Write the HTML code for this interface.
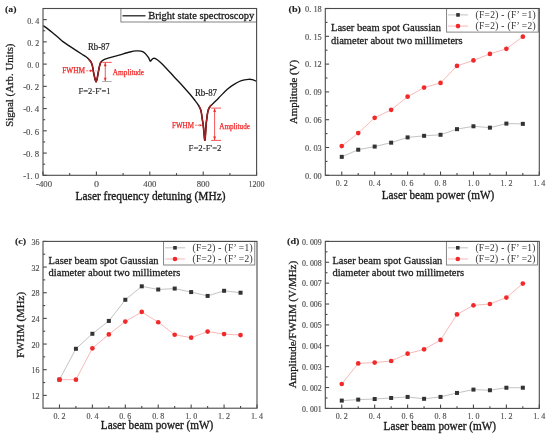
<!DOCTYPE html>
<html><head><meta charset="utf-8"><style>
html,body{margin:0;padding:0;background:#fff;}
svg{display:block;font-family:'Liberation Serif', serif;filter:blur(0.3px);}
</style></head><body>
<svg width="550" height="435" viewBox="0 0 550 435">
<rect width="550" height="435" fill="#fff"/>
<text x="5" y="11.7" font-size="9.0" text-anchor="start" fill="#222" font-weight="bold" textLength="11.4" lengthAdjust="spacingAndGlyphs" stroke="#222" stroke-width="0.1" >(a)</text>
<line x1="43" y1="19.62" x2="46.8" y2="19.62" stroke="#4a4a4a" stroke-width="1.1" />
<line x1="43" y1="41.86" x2="46.8" y2="41.86" stroke="#4a4a4a" stroke-width="1.1" />
<line x1="43" y1="64.1" x2="46.8" y2="64.1" stroke="#4a4a4a" stroke-width="1.1" />
<line x1="43" y1="86.34" x2="46.8" y2="86.34" stroke="#4a4a4a" stroke-width="1.1" />
<line x1="43" y1="108.58" x2="46.8" y2="108.58" stroke="#4a4a4a" stroke-width="1.1" />
<line x1="43" y1="130.82" x2="46.8" y2="130.82" stroke="#4a4a4a" stroke-width="1.1" />
<line x1="43" y1="153.06" x2="46.8" y2="153.06" stroke="#4a4a4a" stroke-width="1.1" />
<line x1="43" y1="175.3" x2="46.8" y2="175.3" stroke="#4a4a4a" stroke-width="1.1" />
<line x1="43" y1="30.74" x2="45.2" y2="30.74" stroke="#4a4a4a" stroke-width="1.1" />
<line x1="43" y1="52.98" x2="45.2" y2="52.98" stroke="#4a4a4a" stroke-width="1.1" />
<line x1="43" y1="75.22" x2="45.2" y2="75.22" stroke="#4a4a4a" stroke-width="1.1" />
<line x1="43" y1="97.46" x2="45.2" y2="97.46" stroke="#4a4a4a" stroke-width="1.1" />
<line x1="43" y1="119.7" x2="45.2" y2="119.7" stroke="#4a4a4a" stroke-width="1.1" />
<line x1="43" y1="141.94" x2="45.2" y2="141.94" stroke="#4a4a4a" stroke-width="1.1" />
<line x1="43" y1="164.18" x2="45.2" y2="164.18" stroke="#4a4a4a" stroke-width="1.1" />
<line x1="43" y1="175.3" x2="43" y2="171.5" stroke="#4a4a4a" stroke-width="1.1" />
<line x1="96.4" y1="175.3" x2="96.4" y2="171.5" stroke="#4a4a4a" stroke-width="1.1" />
<line x1="149.8" y1="175.3" x2="149.8" y2="171.5" stroke="#4a4a4a" stroke-width="1.1" />
<line x1="203.2" y1="175.3" x2="203.2" y2="171.5" stroke="#4a4a4a" stroke-width="1.1" />
<line x1="256.6" y1="175.3" x2="256.6" y2="171.5" stroke="#4a4a4a" stroke-width="1.1" />
<line x1="69.7" y1="175.3" x2="69.7" y2="173.1" stroke="#4a4a4a" stroke-width="1.1" />
<line x1="123.1" y1="175.3" x2="123.1" y2="173.1" stroke="#4a4a4a" stroke-width="1.1" />
<line x1="176.5" y1="175.3" x2="176.5" y2="173.1" stroke="#4a4a4a" stroke-width="1.1" />
<line x1="229.9" y1="175.3" x2="229.9" y2="173.1" stroke="#4a4a4a" stroke-width="1.1" />
<text x="39.2" y="23.52" font-size="8" text-anchor="end" fill="#505050" font-weight="normal" textLength="12" lengthAdjust="spacingAndGlyphs" stroke="#505050" stroke-width="0.15" >0. 4</text>
<text x="39.2" y="45.76" font-size="8" text-anchor="end" fill="#505050" font-weight="normal" textLength="12" lengthAdjust="spacingAndGlyphs" stroke="#505050" stroke-width="0.15" >0. 2</text>
<text x="39.2" y="68" font-size="8" text-anchor="end" fill="#505050" font-weight="normal" textLength="12" lengthAdjust="spacingAndGlyphs" stroke="#505050" stroke-width="0.15" >0. 0</text>
<text x="39.2" y="90.24" font-size="8" text-anchor="end" fill="#505050" font-weight="normal" textLength="16" lengthAdjust="spacingAndGlyphs" stroke="#505050" stroke-width="0.15" >-0. 2</text>
<text x="39.2" y="112.48" font-size="8" text-anchor="end" fill="#505050" font-weight="normal" textLength="16" lengthAdjust="spacingAndGlyphs" stroke="#505050" stroke-width="0.15" >-0. 4</text>
<text x="39.2" y="134.72" font-size="8" text-anchor="end" fill="#505050" font-weight="normal" textLength="16" lengthAdjust="spacingAndGlyphs" stroke="#505050" stroke-width="0.15" >-0. 6</text>
<text x="39.2" y="156.96" font-size="8" text-anchor="end" fill="#505050" font-weight="normal" textLength="16" lengthAdjust="spacingAndGlyphs" stroke="#505050" stroke-width="0.15" >-0. 8</text>
<text x="39.2" y="179.2" font-size="8" text-anchor="end" fill="#505050" font-weight="normal" textLength="16" lengthAdjust="spacingAndGlyphs" stroke="#505050" stroke-width="0.15" >-1. 0</text>
<text x="44" y="186.6" font-size="8" text-anchor="middle" fill="#505050" font-weight="normal" textLength="16" lengthAdjust="spacingAndGlyphs" stroke="#505050" stroke-width="0.15" >-400</text>
<text x="96.4" y="186.6" font-size="8" text-anchor="middle" fill="#505050" font-weight="normal" textLength="5" lengthAdjust="spacingAndGlyphs" stroke="#505050" stroke-width="0.15" >0</text>
<text x="149.8" y="186.6" font-size="8" text-anchor="middle" fill="#505050" font-weight="normal" textLength="13" lengthAdjust="spacingAndGlyphs" stroke="#505050" stroke-width="0.15" >400</text>
<text x="203.2" y="186.6" font-size="8" text-anchor="middle" fill="#505050" font-weight="normal" textLength="13" lengthAdjust="spacingAndGlyphs" stroke="#505050" stroke-width="0.15" >800</text>
<text x="256.6" y="186.6" font-size="8" text-anchor="middle" fill="#505050" font-weight="normal" textLength="16" lengthAdjust="spacingAndGlyphs" stroke="#505050" stroke-width="0.15" >1200</text>
<text x="150.5" y="199.8" font-size="11.9" text-anchor="middle" fill="#1a1a1a" font-weight="normal" textLength="150" lengthAdjust="spacingAndGlyphs" stroke="#1a1a1a" stroke-width="0.32" >Laser frequency detuning (MHz)</text>
<text transform="translate(12.6,85.2) rotate(-90)" x="0" y="0" font-size="11.0" text-anchor="middle" fill="#1a1a1a" textLength="83.3" lengthAdjust="spacingAndGlyphs" stroke="#1a1a1a" stroke-width="0.25">Signal (Arb. Units)</text>
<clipPath id="ca"><rect x="43.0" y="8.5" width="213.60000000000002" height="166.8"/></clipPath>
<clipPath id="dips"><rect x="88.5" y="55" width="13" height="30"/><rect x="198.8" y="103" width="12.5" height="40"/></clipPath>
<path d="M43.30,25.60 C44.75,26.70 49.55,30.25 52.00,32.20 C54.45,34.15 56.12,35.68 58.00,37.30 C59.88,38.92 61.30,40.38 63.30,41.90 C65.30,43.42 67.82,44.95 70.00,46.40 C72.18,47.85 74.40,49.30 76.40,50.60 C78.40,51.90 80.40,53.17 82.00,54.20 C83.60,55.23 84.88,55.95 86.00,56.80 C87.12,57.65 87.87,58.43 88.70,59.30 C89.53,60.17 90.38,60.92 91.00,62.00 C91.62,63.08 92.03,64.38 92.40,65.80 C92.77,67.22 92.92,68.97 93.20,70.50 C93.48,72.03 93.78,73.53 94.10,75.00 C94.42,76.47 94.77,78.17 95.10,79.30 C95.43,80.43 95.78,81.80 96.10,81.80 C96.42,81.80 96.72,80.43 97.00,79.30 C97.28,78.17 97.53,76.43 97.80,75.00 C98.07,73.57 98.33,72.10 98.60,70.70 C98.87,69.30 99.08,67.88 99.40,66.60 C99.72,65.32 100.02,63.98 100.50,63.00 C100.98,62.02 101.55,61.35 102.30,60.70 C103.05,60.05 103.72,59.60 105.00,59.10 C106.28,58.60 107.50,58.42 110.00,57.70 C112.50,56.98 116.67,55.75 120.00,54.80 C123.33,53.85 127.33,52.65 130.00,52.00 C132.67,51.35 134.17,51.03 136.00,50.90 C137.83,50.77 139.50,50.82 141.00,51.20 C142.50,51.58 143.75,52.12 145.00,53.20 C146.25,54.28 147.62,56.38 148.50,57.70 C149.38,59.02 149.77,60.75 150.30,61.10 C150.83,61.45 151.18,60.25 151.70,59.80 C152.22,59.35 152.77,58.58 153.40,58.40 C154.03,58.22 154.40,58.10 155.50,58.70 C156.60,59.30 158.25,60.45 160.00,62.00 C161.75,63.55 163.67,65.55 166.00,68.00 C168.33,70.45 171.33,73.83 174.00,76.70 C176.67,79.57 179.33,82.27 182.00,85.20 C184.67,88.13 187.83,91.75 190.00,94.30 C192.17,96.85 193.62,98.68 195.00,100.50 C196.38,102.32 197.32,103.55 198.30,105.20 C199.28,106.85 200.25,108.17 200.90,110.40 C201.55,112.63 201.80,116.02 202.20,118.60 C202.60,121.18 203.00,123.48 203.30,125.90 C203.60,128.32 203.78,130.83 204.00,133.10 C204.22,135.37 204.42,138.43 204.60,139.50 C204.78,140.57 204.95,140.38 205.10,139.50 C205.25,138.62 205.35,136.47 205.50,134.20 C205.65,131.93 205.78,128.50 206.00,125.90 C206.22,123.30 206.45,121.18 206.80,118.60 C207.15,116.02 207.53,112.45 208.10,110.40 C208.67,108.35 209.37,107.43 210.20,106.30 C211.03,105.17 212.00,104.67 213.10,103.60 C214.20,102.53 215.53,101.18 216.80,99.90 C218.07,98.62 218.90,97.72 220.70,95.90 C222.50,94.08 225.30,90.97 227.60,89.00 C229.90,87.03 232.20,85.48 234.50,84.10 C236.80,82.72 239.10,81.50 241.40,80.70 C243.70,79.90 246.47,79.48 248.30,79.30 C250.13,79.12 251.02,79.25 252.40,79.60 C253.78,79.95 255.90,81.10 256.60,81.40" fill="none" stroke="#e84444" stroke-width="1.75" clip-path="url(#dips)" stroke-linejoin="round"/>
<path d="M43.30,25.60 C44.75,26.70 49.55,30.25 52.00,32.20 C54.45,34.15 56.12,35.68 58.00,37.30 C59.88,38.92 61.30,40.38 63.30,41.90 C65.30,43.42 67.82,44.95 70.00,46.40 C72.18,47.85 74.40,49.30 76.40,50.60 C78.40,51.90 80.40,53.17 82.00,54.20 C83.60,55.23 84.88,55.95 86.00,56.80 C87.12,57.65 87.87,58.43 88.70,59.30 C89.53,60.17 90.38,60.92 91.00,62.00 C91.62,63.08 92.03,64.38 92.40,65.80 C92.77,67.22 92.92,68.97 93.20,70.50 C93.48,72.03 93.78,73.53 94.10,75.00 C94.42,76.47 94.77,78.17 95.10,79.30 C95.43,80.43 95.78,81.80 96.10,81.80 C96.42,81.80 96.72,80.43 97.00,79.30 C97.28,78.17 97.53,76.43 97.80,75.00 C98.07,73.57 98.33,72.10 98.60,70.70 C98.87,69.30 99.08,67.88 99.40,66.60 C99.72,65.32 100.02,63.98 100.50,63.00 C100.98,62.02 101.55,61.35 102.30,60.70 C103.05,60.05 103.72,59.60 105.00,59.10 C106.28,58.60 107.50,58.42 110.00,57.70 C112.50,56.98 116.67,55.75 120.00,54.80 C123.33,53.85 127.33,52.65 130.00,52.00 C132.67,51.35 134.17,51.03 136.00,50.90 C137.83,50.77 139.50,50.82 141.00,51.20 C142.50,51.58 143.75,52.12 145.00,53.20 C146.25,54.28 147.62,56.38 148.50,57.70 C149.38,59.02 149.77,60.75 150.30,61.10 C150.83,61.45 151.18,60.25 151.70,59.80 C152.22,59.35 152.77,58.58 153.40,58.40 C154.03,58.22 154.40,58.10 155.50,58.70 C156.60,59.30 158.25,60.45 160.00,62.00 C161.75,63.55 163.67,65.55 166.00,68.00 C168.33,70.45 171.33,73.83 174.00,76.70 C176.67,79.57 179.33,82.27 182.00,85.20 C184.67,88.13 187.83,91.75 190.00,94.30 C192.17,96.85 193.62,98.68 195.00,100.50 C196.38,102.32 197.32,103.55 198.30,105.20 C199.28,106.85 200.25,108.17 200.90,110.40 C201.55,112.63 201.80,116.02 202.20,118.60 C202.60,121.18 203.00,123.48 203.30,125.90 C203.60,128.32 203.78,130.83 204.00,133.10 C204.22,135.37 204.42,138.43 204.60,139.50 C204.78,140.57 204.95,140.38 205.10,139.50 C205.25,138.62 205.35,136.47 205.50,134.20 C205.65,131.93 205.78,128.50 206.00,125.90 C206.22,123.30 206.45,121.18 206.80,118.60 C207.15,116.02 207.53,112.45 208.10,110.40 C208.67,108.35 209.37,107.43 210.20,106.30 C211.03,105.17 212.00,104.67 213.10,103.60 C214.20,102.53 215.53,101.18 216.80,99.90 C218.07,98.62 218.90,97.72 220.70,95.90 C222.50,94.08 225.30,90.97 227.60,89.00 C229.90,87.03 232.20,85.48 234.50,84.10 C236.80,82.72 239.10,81.50 241.40,80.70 C243.70,79.90 246.47,79.48 248.30,79.30 C250.13,79.12 251.02,79.25 252.40,79.60 C253.78,79.95 255.90,81.10 256.60,81.40" fill="none" stroke="#141414" stroke-width="1.35" clip-path="url(#ca)" stroke-linejoin="round"/>
<path d="M43.30,25.60 C44.75,26.70 49.55,30.25 52.00,32.20 C54.45,34.15 56.12,35.68 58.00,37.30 C59.88,38.92 61.30,40.38 63.30,41.90 C65.30,43.42 67.82,44.95 70.00,46.40 C72.18,47.85 74.40,49.30 76.40,50.60 C78.40,51.90 80.40,53.17 82.00,54.20 C83.60,55.23 84.88,55.95 86.00,56.80 C87.12,57.65 87.87,58.43 88.70,59.30 C89.53,60.17 90.38,60.92 91.00,62.00 C91.62,63.08 92.03,64.38 92.40,65.80 C92.77,67.22 92.92,68.97 93.20,70.50 C93.48,72.03 93.78,73.53 94.10,75.00 C94.42,76.47 94.77,78.17 95.10,79.30 C95.43,80.43 95.78,81.80 96.10,81.80 C96.42,81.80 96.72,80.43 97.00,79.30 C97.28,78.17 97.53,76.43 97.80,75.00 C98.07,73.57 98.33,72.10 98.60,70.70 C98.87,69.30 99.08,67.88 99.40,66.60 C99.72,65.32 100.02,63.98 100.50,63.00 C100.98,62.02 101.55,61.35 102.30,60.70 C103.05,60.05 103.72,59.60 105.00,59.10 C106.28,58.60 107.50,58.42 110.00,57.70 C112.50,56.98 116.67,55.75 120.00,54.80 C123.33,53.85 127.33,52.65 130.00,52.00 C132.67,51.35 134.17,51.03 136.00,50.90 C137.83,50.77 139.50,50.82 141.00,51.20 C142.50,51.58 143.75,52.12 145.00,53.20 C146.25,54.28 147.62,56.38 148.50,57.70 C149.38,59.02 149.77,60.75 150.30,61.10 C150.83,61.45 151.18,60.25 151.70,59.80 C152.22,59.35 152.77,58.58 153.40,58.40 C154.03,58.22 154.40,58.10 155.50,58.70 C156.60,59.30 158.25,60.45 160.00,62.00 C161.75,63.55 163.67,65.55 166.00,68.00 C168.33,70.45 171.33,73.83 174.00,76.70 C176.67,79.57 179.33,82.27 182.00,85.20 C184.67,88.13 187.83,91.75 190.00,94.30 C192.17,96.85 193.62,98.68 195.00,100.50 C196.38,102.32 197.32,103.55 198.30,105.20 C199.28,106.85 200.25,108.17 200.90,110.40 C201.55,112.63 201.80,116.02 202.20,118.60 C202.60,121.18 203.00,123.48 203.30,125.90 C203.60,128.32 203.78,130.83 204.00,133.10 C204.22,135.37 204.42,138.43 204.60,139.50 C204.78,140.57 204.95,140.38 205.10,139.50 C205.25,138.62 205.35,136.47 205.50,134.20 C205.65,131.93 205.78,128.50 206.00,125.90 C206.22,123.30 206.45,121.18 206.80,118.60 C207.15,116.02 207.53,112.45 208.10,110.40 C208.67,108.35 209.37,107.43 210.20,106.30 C211.03,105.17 212.00,104.67 213.10,103.60 C214.20,102.53 215.53,101.18 216.80,99.90 C218.07,98.62 218.90,97.72 220.70,95.90 C222.50,94.08 225.30,90.97 227.60,89.00 C229.90,87.03 232.20,85.48 234.50,84.10 C236.80,82.72 239.10,81.50 241.40,80.70 C243.70,79.90 246.47,79.48 248.30,79.30 C250.13,79.12 251.02,79.25 252.40,79.60 C253.78,79.95 255.90,81.10 256.60,81.40" fill="none" stroke="#a82222" stroke-width="1.15" clip-path="url(#dips)" stroke-linejoin="round"/>
<rect x="120.9" y="8.5" width="135.70000000000002" height="13.5" fill="white" stroke="#777" stroke-width="0.9"/>
<line x1="122.5" y1="15.8" x2="145.5" y2="15.8" stroke="#222" stroke-width="1.3" />
<text x="148.2" y="19.2" font-size="10.9" text-anchor="start" fill="#1a1a1a" font-weight="normal" textLength="106" lengthAdjust="spacingAndGlyphs" stroke="#1a1a1a" stroke-width="0.3" >Bright state spectroscopy</text>
<text x="98.9" y="49.5" font-size="9.6" text-anchor="middle" fill="#1a1a1a" font-weight="normal" textLength="21.6" lengthAdjust="spacingAndGlyphs" stroke="#1a1a1a" stroke-width="0.2" >Rb-87</text>
<text x="94.5" y="94.2" font-size="8.6" text-anchor="middle" fill="#1a1a1a" font-weight="normal" textLength="32" lengthAdjust="spacingAndGlyphs" stroke="#1a1a1a" stroke-width="0.1" >F=2-F'=1</text>
<text x="62.3" y="73.1" font-size="7.3" text-anchor="start" fill="#f02a2a" font-weight="normal" textLength="22.7" lengthAdjust="spacingAndGlyphs" stroke="#f02a2a" stroke-width="0.25" >FWHM</text>
<line x1="86.3" y1="70.8" x2="90.5" y2="70.8" stroke="#f02a2a" stroke-width="0.8" stroke-dasharray="1.6,0.8"/>
<path d="M92.8,70.8 L90.0,69.6 L90.0,72.0 Z" fill="#f02a2a"/>
<line x1="95.3" y1="70.8" x2="98.5" y2="70.8" stroke="#999" stroke-width="0.7" stroke-dasharray="1.2,0.8"/>
<line x1="102.4" y1="62.4" x2="111.7" y2="62.4" stroke="#f02a2a" stroke-width="0.8" />
<line x1="102" y1="81.5" x2="111.7" y2="81.5" stroke="#999" stroke-width="0.8" />
<line x1="105.25" y1="63" x2="105.25" y2="81" stroke="#f02a2a" stroke-width="0.8" />
<path d="M105.25,62.6 L103.85,66.2 L106.65,66.2 Z" fill="#f02a2a"/>
<path d="M105.25,81.3 L103.85,77.7 L106.65,77.7 Z" fill="#f02a2a"/>
<text x="112.8" y="74.9" font-size="7.3" text-anchor="start" fill="#f02a2a" font-weight="normal" textLength="31.2" lengthAdjust="spacingAndGlyphs" stroke="#f02a2a" stroke-width="0.25" >Amplitude</text>
<text x="206" y="95.5" font-size="9.6" text-anchor="middle" fill="#1a1a1a" font-weight="normal" textLength="22" lengthAdjust="spacingAndGlyphs" stroke="#1a1a1a" stroke-width="0.2" >Rb-87</text>
<text x="205" y="151" font-size="8.8" text-anchor="middle" fill="#1a1a1a" font-weight="normal" textLength="33" lengthAdjust="spacingAndGlyphs" stroke="#1a1a1a" stroke-width="0.1" >F=2-F'=2</text>
<text x="172" y="128.2" font-size="7.3" text-anchor="start" fill="#f02a2a" font-weight="normal" textLength="22" lengthAdjust="spacingAndGlyphs" stroke="#f02a2a" stroke-width="0.25" >FWHM</text>
<line x1="195.2" y1="125.2" x2="199.8" y2="125.2" stroke="#f02a2a" stroke-width="0.8" stroke-dasharray="1.6,0.8"/>
<path d="M202.3,125.2 L199.5,124.0 L199.5,126.4 Z" fill="#f02a2a"/>
<line x1="211.2" y1="108.1" x2="221" y2="108.1" stroke="#f02a2a" stroke-width="0.8" />
<line x1="211.2" y1="140.4" x2="221" y2="140.4" stroke="#f02a2a" stroke-width="0.8" />
<line x1="214.6" y1="108.6" x2="214.6" y2="140" stroke="#f02a2a" stroke-width="0.8" />
<path d="M214.6,108.3 L213.2,111.9 L216.0,111.9 Z" fill="#f02a2a"/>
<path d="M214.6,140.2 L213.2,136.6 L216.0,136.6 Z" fill="#f02a2a"/>
<text x="219.2" y="128.6" font-size="7.3" text-anchor="start" fill="#f02a2a" font-weight="normal" textLength="30.8" lengthAdjust="spacingAndGlyphs" stroke="#f02a2a" stroke-width="0.25" >Amplitude</text>
<rect x="43" y="8.5" width="213.6" height="166.8" fill="none" stroke="#4a4a4a" stroke-width="1.1"/>
<text x="288.6" y="12.4" font-size="9.0" text-anchor="start" fill="#222" font-weight="bold" textLength="12.4" lengthAdjust="spacingAndGlyphs" stroke="#222" stroke-width="0.1" >(b)</text>
<line x1="325.3" y1="175.3" x2="329.1" y2="175.3" stroke="#4a4a4a" stroke-width="1.1" />
<line x1="325.3" y1="147.5" x2="329.1" y2="147.5" stroke="#4a4a4a" stroke-width="1.1" />
<line x1="325.3" y1="119.7" x2="329.1" y2="119.7" stroke="#4a4a4a" stroke-width="1.1" />
<line x1="325.3" y1="91.9" x2="329.1" y2="91.9" stroke="#4a4a4a" stroke-width="1.1" />
<line x1="325.3" y1="64.1" x2="329.1" y2="64.1" stroke="#4a4a4a" stroke-width="1.1" />
<line x1="325.3" y1="36.3" x2="329.1" y2="36.3" stroke="#4a4a4a" stroke-width="1.1" />
<line x1="325.3" y1="8.5" x2="329.1" y2="8.5" stroke="#4a4a4a" stroke-width="1.1" />
<line x1="325.3" y1="161.4" x2="327.5" y2="161.4" stroke="#4a4a4a" stroke-width="1.1" />
<line x1="325.3" y1="133.6" x2="327.5" y2="133.6" stroke="#4a4a4a" stroke-width="1.1" />
<line x1="325.3" y1="105.8" x2="327.5" y2="105.8" stroke="#4a4a4a" stroke-width="1.1" />
<line x1="325.3" y1="78" x2="327.5" y2="78" stroke="#4a4a4a" stroke-width="1.1" />
<line x1="325.3" y1="50.2" x2="327.5" y2="50.2" stroke="#4a4a4a" stroke-width="1.1" />
<line x1="325.3" y1="22.4" x2="327.5" y2="22.4" stroke="#4a4a4a" stroke-width="1.1" />
<line x1="341.76" y1="175.3" x2="341.76" y2="171.5" stroke="#4a4a4a" stroke-width="1.1" />
<line x1="374.68" y1="175.3" x2="374.68" y2="171.5" stroke="#4a4a4a" stroke-width="1.1" />
<line x1="407.61" y1="175.3" x2="407.61" y2="171.5" stroke="#4a4a4a" stroke-width="1.1" />
<line x1="440.53" y1="175.3" x2="440.53" y2="171.5" stroke="#4a4a4a" stroke-width="1.1" />
<line x1="473.45" y1="175.3" x2="473.45" y2="171.5" stroke="#4a4a4a" stroke-width="1.1" />
<line x1="506.38" y1="175.3" x2="506.38" y2="171.5" stroke="#4a4a4a" stroke-width="1.1" />
<line x1="539.3" y1="175.3" x2="539.3" y2="171.5" stroke="#4a4a4a" stroke-width="1.1" />
<line x1="358.22" y1="175.3" x2="358.22" y2="173.1" stroke="#4a4a4a" stroke-width="1.1" />
<line x1="391.15" y1="175.3" x2="391.15" y2="173.1" stroke="#4a4a4a" stroke-width="1.1" />
<line x1="424.07" y1="175.3" x2="424.07" y2="173.1" stroke="#4a4a4a" stroke-width="1.1" />
<line x1="456.99" y1="175.3" x2="456.99" y2="173.1" stroke="#4a4a4a" stroke-width="1.1" />
<line x1="489.92" y1="175.3" x2="489.92" y2="173.1" stroke="#4a4a4a" stroke-width="1.1" />
<line x1="522.84" y1="175.3" x2="522.84" y2="173.1" stroke="#4a4a4a" stroke-width="1.1" />
<text x="321.7" y="178.5" font-size="8" text-anchor="end" fill="#505050" font-weight="normal" textLength="16.6" lengthAdjust="spacingAndGlyphs" stroke="#505050" stroke-width="0.15" >0. 00</text>
<text x="321.7" y="150.7" font-size="8" text-anchor="end" fill="#505050" font-weight="normal" textLength="16.6" lengthAdjust="spacingAndGlyphs" stroke="#505050" stroke-width="0.15" >0. 03</text>
<text x="321.7" y="122.9" font-size="8" text-anchor="end" fill="#505050" font-weight="normal" textLength="16.6" lengthAdjust="spacingAndGlyphs" stroke="#505050" stroke-width="0.15" >0. 06</text>
<text x="321.7" y="95.1" font-size="8" text-anchor="end" fill="#505050" font-weight="normal" textLength="16.6" lengthAdjust="spacingAndGlyphs" stroke="#505050" stroke-width="0.15" >0. 09</text>
<text x="321.7" y="67.3" font-size="8" text-anchor="end" fill="#505050" font-weight="normal" textLength="16.6" lengthAdjust="spacingAndGlyphs" stroke="#505050" stroke-width="0.15" >0. 12</text>
<text x="321.7" y="39.5" font-size="8" text-anchor="end" fill="#505050" font-weight="normal" textLength="16.6" lengthAdjust="spacingAndGlyphs" stroke="#505050" stroke-width="0.15" >0. 15</text>
<text x="321.7" y="11.7" font-size="8" text-anchor="end" fill="#505050" font-weight="normal" textLength="16.6" lengthAdjust="spacingAndGlyphs" stroke="#505050" stroke-width="0.15" >0. 18</text>
<text x="341.76" y="186.4" font-size="8" text-anchor="middle" fill="#505050" font-weight="normal" textLength="12" lengthAdjust="spacingAndGlyphs" stroke="#505050" stroke-width="0.15" >0. 2</text>
<text x="374.68" y="186.4" font-size="8" text-anchor="middle" fill="#505050" font-weight="normal" textLength="12" lengthAdjust="spacingAndGlyphs" stroke="#505050" stroke-width="0.15" >0. 4</text>
<text x="407.61" y="186.4" font-size="8" text-anchor="middle" fill="#505050" font-weight="normal" textLength="12" lengthAdjust="spacingAndGlyphs" stroke="#505050" stroke-width="0.15" >0. 6</text>
<text x="440.53" y="186.4" font-size="8" text-anchor="middle" fill="#505050" font-weight="normal" textLength="12" lengthAdjust="spacingAndGlyphs" stroke="#505050" stroke-width="0.15" >0. 8</text>
<text x="473.45" y="186.4" font-size="8" text-anchor="middle" fill="#505050" font-weight="normal" textLength="12" lengthAdjust="spacingAndGlyphs" stroke="#505050" stroke-width="0.15" >1. 0</text>
<text x="506.38" y="186.4" font-size="8" text-anchor="middle" fill="#505050" font-weight="normal" textLength="12" lengthAdjust="spacingAndGlyphs" stroke="#505050" stroke-width="0.15" >1. 2</text>
<text x="539.3" y="186.4" font-size="8" text-anchor="middle" fill="#505050" font-weight="normal" textLength="12" lengthAdjust="spacingAndGlyphs" stroke="#505050" stroke-width="0.15" >1. 4</text>
<text x="438" y="199" font-size="11.9" text-anchor="middle" fill="#1a1a1a" font-weight="normal" textLength="112.5" lengthAdjust="spacingAndGlyphs" stroke="#1a1a1a" stroke-width="0.32" >Laser beam power (mW)</text>
<text transform="translate(296.5,92) rotate(-90)" x="0" y="0" font-size="11.3" text-anchor="middle" fill="#1a1a1a" textLength="64" lengthAdjust="spacingAndGlyphs" stroke="#1a1a1a" stroke-width="0.28">Amplitude (V)</text>
<polyline points="341.76,156.86 358.22,149.72 374.68,146.57 391.15,142.68 407.61,137.40 424.07,135.82 440.53,134.80 456.99,129.15 473.45,126.28 489.92,127.67 506.38,123.59 522.84,123.87" fill="none" stroke="#bcbcbc" stroke-width="0.9"/>
<polyline points="341.76,146.11 358.22,133.04 374.68,117.85 391.15,109.78 407.61,96.72 424.07,87.54 440.53,82.91 456.99,65.95 473.45,60.39 489.92,53.91 506.38,48.81 522.84,36.67" fill="none" stroke="#f7b0b0" stroke-width="0.9"/>
<rect x="339.76" y="154.86" width="4" height="4" fill="#333333"/>
<rect x="356.22" y="147.72" width="4" height="4" fill="#333333"/>
<rect x="372.68" y="144.57" width="4" height="4" fill="#333333"/>
<rect x="389.15" y="140.68" width="4" height="4" fill="#333333"/>
<rect x="405.61" y="135.40" width="4" height="4" fill="#333333"/>
<rect x="422.07" y="133.82" width="4" height="4" fill="#333333"/>
<rect x="438.53" y="132.80" width="4" height="4" fill="#333333"/>
<rect x="454.99" y="127.15" width="4" height="4" fill="#333333"/>
<rect x="471.45" y="124.28" width="4" height="4" fill="#333333"/>
<rect x="487.92" y="125.67" width="4" height="4" fill="#333333"/>
<rect x="504.38" y="121.59" width="4" height="4" fill="#333333"/>
<rect x="520.84" y="121.87" width="4" height="4" fill="#333333"/>
<circle cx="341.76" cy="146.11" r="2.35" fill="#f02a2a"/>
<circle cx="358.22" cy="133.04" r="2.35" fill="#f02a2a"/>
<circle cx="374.68" cy="117.85" r="2.35" fill="#f02a2a"/>
<circle cx="391.15" cy="109.78" r="2.35" fill="#f02a2a"/>
<circle cx="407.61" cy="96.72" r="2.35" fill="#f02a2a"/>
<circle cx="424.07" cy="87.54" r="2.35" fill="#f02a2a"/>
<circle cx="440.53" cy="82.91" r="2.35" fill="#f02a2a"/>
<circle cx="456.99" cy="65.95" r="2.35" fill="#f02a2a"/>
<circle cx="473.45" cy="60.39" r="2.35" fill="#f02a2a"/>
<circle cx="489.92" cy="53.91" r="2.35" fill="#f02a2a"/>
<circle cx="506.38" cy="48.81" r="2.35" fill="#f02a2a"/>
<circle cx="522.84" cy="36.67" r="2.35" fill="#f02a2a"/>
<text x="331" y="30.5" font-size="10.9" text-anchor="start" fill="#1a1a1a" font-weight="normal" textLength="110" lengthAdjust="spacingAndGlyphs" stroke="#1a1a1a" stroke-width="0.28" >Laser beam spot Gaussian</text>
<text x="331" y="43.6" font-size="10.9" text-anchor="start" fill="#1a1a1a" font-weight="normal" textLength="131.7" lengthAdjust="spacingAndGlyphs" stroke="#1a1a1a" stroke-width="0.28" >diameter about two millimeters</text>
<rect x="446.6" y="8.5" width="91.69999999999993" height="23.6" fill="white" stroke="#777" stroke-width="0.9"/>
<line x1="448.1" y1="14.9" x2="468.1" y2="14.9" stroke="#bcbcbc" stroke-width="0.9" />
<rect x="456.20" y="13.10" width="3.6" height="3.6" fill="#333333"/>
<line x1="448.1" y1="26.1" x2="468.1" y2="26.1" stroke="#f7b0b0" stroke-width="0.9" />
<circle cx="458.00" cy="26.10" r="2.3" fill="#f02a2a"/>
<text x="475.6" y="18.1" font-size="9.4" text-anchor="start" fill="#383838" font-weight="normal" textLength="60" lengthAdjust="spacing" stroke="#383838" stroke-width="0.05" >(F=2) - (F’ =1)</text>
<text x="475.6" y="29.3" font-size="9.4" text-anchor="start" fill="#383838" font-weight="normal" textLength="60" lengthAdjust="spacing" stroke="#383838" stroke-width="0.05" >(F=2) - (F’ =2)</text>
<rect x="325.3" y="8.5" width="214" height="166.8" fill="none" stroke="#4a4a4a" stroke-width="1.1"/>
<text x="15" y="243.8" font-size="9.0" text-anchor="start" fill="#222" font-weight="bold" textLength="11.2" lengthAdjust="spacingAndGlyphs" stroke="#222" stroke-width="0.1" >(c)</text>
<line x1="43" y1="395.37" x2="46.8" y2="395.37" stroke="#4a4a4a" stroke-width="1.1" />
<line x1="43" y1="369.71" x2="46.8" y2="369.71" stroke="#4a4a4a" stroke-width="1.1" />
<line x1="43" y1="344.05" x2="46.8" y2="344.05" stroke="#4a4a4a" stroke-width="1.1" />
<line x1="43" y1="318.38" x2="46.8" y2="318.38" stroke="#4a4a4a" stroke-width="1.1" />
<line x1="43" y1="292.72" x2="46.8" y2="292.72" stroke="#4a4a4a" stroke-width="1.1" />
<line x1="43" y1="267.06" x2="46.8" y2="267.06" stroke="#4a4a4a" stroke-width="1.1" />
<line x1="43" y1="241.4" x2="46.8" y2="241.4" stroke="#4a4a4a" stroke-width="1.1" />
<line x1="43" y1="382.54" x2="45.2" y2="382.54" stroke="#4a4a4a" stroke-width="1.1" />
<line x1="43" y1="356.88" x2="45.2" y2="356.88" stroke="#4a4a4a" stroke-width="1.1" />
<line x1="43" y1="331.22" x2="45.2" y2="331.22" stroke="#4a4a4a" stroke-width="1.1" />
<line x1="43" y1="305.55" x2="45.2" y2="305.55" stroke="#4a4a4a" stroke-width="1.1" />
<line x1="43" y1="279.89" x2="45.2" y2="279.89" stroke="#4a4a4a" stroke-width="1.1" />
<line x1="43" y1="254.23" x2="45.2" y2="254.23" stroke="#4a4a4a" stroke-width="1.1" />
<line x1="59.46" y1="408.2" x2="59.46" y2="404.4" stroke="#4a4a4a" stroke-width="1.1" />
<line x1="92.38" y1="408.2" x2="92.38" y2="404.4" stroke="#4a4a4a" stroke-width="1.1" />
<line x1="125.31" y1="408.2" x2="125.31" y2="404.4" stroke="#4a4a4a" stroke-width="1.1" />
<line x1="158.23" y1="408.2" x2="158.23" y2="404.4" stroke="#4a4a4a" stroke-width="1.1" />
<line x1="191.15" y1="408.2" x2="191.15" y2="404.4" stroke="#4a4a4a" stroke-width="1.1" />
<line x1="224.08" y1="408.2" x2="224.08" y2="404.4" stroke="#4a4a4a" stroke-width="1.1" />
<line x1="257" y1="408.2" x2="257" y2="404.4" stroke="#4a4a4a" stroke-width="1.1" />
<line x1="75.92" y1="408.2" x2="75.92" y2="406" stroke="#4a4a4a" stroke-width="1.1" />
<line x1="108.85" y1="408.2" x2="108.85" y2="406" stroke="#4a4a4a" stroke-width="1.1" />
<line x1="141.77" y1="408.2" x2="141.77" y2="406" stroke="#4a4a4a" stroke-width="1.1" />
<line x1="174.69" y1="408.2" x2="174.69" y2="406" stroke="#4a4a4a" stroke-width="1.1" />
<line x1="207.62" y1="408.2" x2="207.62" y2="406" stroke="#4a4a4a" stroke-width="1.1" />
<line x1="240.54" y1="408.2" x2="240.54" y2="406" stroke="#4a4a4a" stroke-width="1.1" />
<text x="39.4" y="398.97" font-size="8" text-anchor="end" fill="#505050" font-weight="normal" textLength="8" lengthAdjust="spacingAndGlyphs" stroke="#505050" stroke-width="0.15" >12</text>
<text x="39.4" y="373.31" font-size="8" text-anchor="end" fill="#505050" font-weight="normal" textLength="8" lengthAdjust="spacingAndGlyphs" stroke="#505050" stroke-width="0.15" >16</text>
<text x="39.4" y="347.65" font-size="8" text-anchor="end" fill="#505050" font-weight="normal" textLength="8" lengthAdjust="spacingAndGlyphs" stroke="#505050" stroke-width="0.15" >20</text>
<text x="39.4" y="321.98" font-size="8" text-anchor="end" fill="#505050" font-weight="normal" textLength="8" lengthAdjust="spacingAndGlyphs" stroke="#505050" stroke-width="0.15" >24</text>
<text x="39.4" y="296.32" font-size="8" text-anchor="end" fill="#505050" font-weight="normal" textLength="8" lengthAdjust="spacingAndGlyphs" stroke="#505050" stroke-width="0.15" >28</text>
<text x="39.4" y="270.66" font-size="8" text-anchor="end" fill="#505050" font-weight="normal" textLength="8" lengthAdjust="spacingAndGlyphs" stroke="#505050" stroke-width="0.15" >32</text>
<text x="39.4" y="245" font-size="8" text-anchor="end" fill="#505050" font-weight="normal" textLength="8" lengthAdjust="spacingAndGlyphs" stroke="#505050" stroke-width="0.15" >36</text>
<text x="59.46" y="419.1" font-size="8" text-anchor="middle" fill="#505050" font-weight="normal" textLength="12" lengthAdjust="spacingAndGlyphs" stroke="#505050" stroke-width="0.15" >0. 2</text>
<text x="92.38" y="419.1" font-size="8" text-anchor="middle" fill="#505050" font-weight="normal" textLength="12" lengthAdjust="spacingAndGlyphs" stroke="#505050" stroke-width="0.15" >0. 4</text>
<text x="125.31" y="419.1" font-size="8" text-anchor="middle" fill="#505050" font-weight="normal" textLength="12" lengthAdjust="spacingAndGlyphs" stroke="#505050" stroke-width="0.15" >0. 6</text>
<text x="158.23" y="419.1" font-size="8" text-anchor="middle" fill="#505050" font-weight="normal" textLength="12" lengthAdjust="spacingAndGlyphs" stroke="#505050" stroke-width="0.15" >0. 8</text>
<text x="191.15" y="419.1" font-size="8" text-anchor="middle" fill="#505050" font-weight="normal" textLength="12" lengthAdjust="spacingAndGlyphs" stroke="#505050" stroke-width="0.15" >1. 0</text>
<text x="224.08" y="419.1" font-size="8" text-anchor="middle" fill="#505050" font-weight="normal" textLength="12" lengthAdjust="spacingAndGlyphs" stroke="#505050" stroke-width="0.15" >1. 2</text>
<text x="257" y="419.1" font-size="8" text-anchor="middle" fill="#505050" font-weight="normal" textLength="12" lengthAdjust="spacingAndGlyphs" stroke="#505050" stroke-width="0.15" >1. 4</text>
<text x="157.1" y="429" font-size="11.9" text-anchor="middle" fill="#1a1a1a" font-weight="normal" textLength="112.5" lengthAdjust="spacingAndGlyphs" stroke="#1a1a1a" stroke-width="0.32" >Laser beam power (mW)</text>
<text transform="translate(23.8,325) rotate(-90)" x="0" y="0" font-size="11.3" text-anchor="middle" fill="#1a1a1a" textLength="66" lengthAdjust="spacingAndGlyphs" stroke="#1a1a1a" stroke-width="0.28">FWHM (MHz)</text>
<polyline points="59.46,379.65 75.92,348.79 92.38,333.78 108.85,320.95 125.31,299.78 141.77,286.31 158.23,289.52 174.69,288.55 191.15,292.08 207.62,295.93 224.08,290.80 240.54,292.72" fill="none" stroke="#bcbcbc" stroke-width="0.9"/>
<polyline points="59.46,379.65 75.92,379.65 92.38,348.28 108.85,334.42 125.31,321.59 141.77,311.97 158.23,322.23 174.69,334.74 191.15,337.63 207.62,331.54 224.08,334.10 240.54,335.06" fill="none" stroke="#f7b0b0" stroke-width="0.9"/>
<rect x="57.46" y="377.65" width="4" height="4" fill="#333333"/>
<rect x="73.92" y="346.79" width="4" height="4" fill="#333333"/>
<rect x="90.38" y="331.78" width="4" height="4" fill="#333333"/>
<rect x="106.85" y="318.95" width="4" height="4" fill="#333333"/>
<rect x="123.31" y="297.78" width="4" height="4" fill="#333333"/>
<rect x="139.77" y="284.31" width="4" height="4" fill="#333333"/>
<rect x="156.23" y="287.52" width="4" height="4" fill="#333333"/>
<rect x="172.69" y="286.55" width="4" height="4" fill="#333333"/>
<rect x="189.15" y="290.08" width="4" height="4" fill="#333333"/>
<rect x="205.62" y="293.93" width="4" height="4" fill="#333333"/>
<rect x="222.08" y="288.80" width="4" height="4" fill="#333333"/>
<rect x="238.54" y="290.72" width="4" height="4" fill="#333333"/>
<circle cx="59.46" cy="379.65" r="2.35" fill="#f02a2a"/>
<circle cx="75.92" cy="379.65" r="2.35" fill="#f02a2a"/>
<circle cx="92.38" cy="348.28" r="2.35" fill="#f02a2a"/>
<circle cx="108.85" cy="334.42" r="2.35" fill="#f02a2a"/>
<circle cx="125.31" cy="321.59" r="2.35" fill="#f02a2a"/>
<circle cx="141.77" cy="311.97" r="2.35" fill="#f02a2a"/>
<circle cx="158.23" cy="322.23" r="2.35" fill="#f02a2a"/>
<circle cx="174.69" cy="334.74" r="2.35" fill="#f02a2a"/>
<circle cx="191.15" cy="337.63" r="2.35" fill="#f02a2a"/>
<circle cx="207.62" cy="331.54" r="2.35" fill="#f02a2a"/>
<circle cx="224.08" cy="334.10" r="2.35" fill="#f02a2a"/>
<circle cx="240.54" cy="335.06" r="2.35" fill="#f02a2a"/>
<text x="48.6" y="263.6" font-size="10.9" text-anchor="start" fill="#1a1a1a" font-weight="normal" textLength="110" lengthAdjust="spacingAndGlyphs" stroke="#1a1a1a" stroke-width="0.28" >Laser beam spot Gaussian</text>
<text x="48.6" y="276" font-size="10.9" text-anchor="start" fill="#1a1a1a" font-weight="normal" textLength="131.7" lengthAdjust="spacingAndGlyphs" stroke="#1a1a1a" stroke-width="0.28" >diameter about two millimeters</text>
<rect x="163.6" y="241.4" width="91.20000000000002" height="23.6" fill="white" stroke="#777" stroke-width="0.9"/>
<line x1="165.1" y1="247.8" x2="185.1" y2="247.8" stroke="#bcbcbc" stroke-width="0.9" />
<rect x="173.20" y="246.00" width="3.6" height="3.6" fill="#333333"/>
<line x1="165.1" y1="259" x2="185.1" y2="259" stroke="#f7b0b0" stroke-width="0.9" />
<circle cx="175.00" cy="259.00" r="2.3" fill="#f02a2a"/>
<text x="192.6" y="251" font-size="9.4" text-anchor="start" fill="#383838" font-weight="normal" textLength="60" lengthAdjust="spacing" stroke="#383838" stroke-width="0.05" >(F=2) - (F’ =1)</text>
<text x="192.6" y="262.2" font-size="9.4" text-anchor="start" fill="#383838" font-weight="normal" textLength="60" lengthAdjust="spacing" stroke="#383838" stroke-width="0.05" >(F=2) - (F’ =2)</text>
<rect x="43" y="241.4" width="214" height="166.8" fill="none" stroke="#4a4a4a" stroke-width="1.1"/>
<text x="287" y="244.2" font-size="9.0" text-anchor="start" fill="#222" font-weight="bold" textLength="12.4" lengthAdjust="spacingAndGlyphs" stroke="#222" stroke-width="0.1" >(d)</text>
<line x1="325.3" y1="408.4" x2="329.1" y2="408.4" stroke="#4a4a4a" stroke-width="1.1" />
<line x1="325.3" y1="387.52" x2="329.1" y2="387.52" stroke="#4a4a4a" stroke-width="1.1" />
<line x1="325.3" y1="366.65" x2="329.1" y2="366.65" stroke="#4a4a4a" stroke-width="1.1" />
<line x1="325.3" y1="345.77" x2="329.1" y2="345.77" stroke="#4a4a4a" stroke-width="1.1" />
<line x1="325.3" y1="324.9" x2="329.1" y2="324.9" stroke="#4a4a4a" stroke-width="1.1" />
<line x1="325.3" y1="304.02" x2="329.1" y2="304.02" stroke="#4a4a4a" stroke-width="1.1" />
<line x1="325.3" y1="283.15" x2="329.1" y2="283.15" stroke="#4a4a4a" stroke-width="1.1" />
<line x1="325.3" y1="262.27" x2="329.1" y2="262.27" stroke="#4a4a4a" stroke-width="1.1" />
<line x1="325.3" y1="241.4" x2="329.1" y2="241.4" stroke="#4a4a4a" stroke-width="1.1" />
<line x1="325.3" y1="397.96" x2="327.5" y2="397.96" stroke="#4a4a4a" stroke-width="1.1" />
<line x1="325.3" y1="377.09" x2="327.5" y2="377.09" stroke="#4a4a4a" stroke-width="1.1" />
<line x1="325.3" y1="356.21" x2="327.5" y2="356.21" stroke="#4a4a4a" stroke-width="1.1" />
<line x1="325.3" y1="335.34" x2="327.5" y2="335.34" stroke="#4a4a4a" stroke-width="1.1" />
<line x1="325.3" y1="314.46" x2="327.5" y2="314.46" stroke="#4a4a4a" stroke-width="1.1" />
<line x1="325.3" y1="293.59" x2="327.5" y2="293.59" stroke="#4a4a4a" stroke-width="1.1" />
<line x1="325.3" y1="272.71" x2="327.5" y2="272.71" stroke="#4a4a4a" stroke-width="1.1" />
<line x1="325.3" y1="251.84" x2="327.5" y2="251.84" stroke="#4a4a4a" stroke-width="1.1" />
<line x1="341.76" y1="408.4" x2="341.76" y2="404.6" stroke="#4a4a4a" stroke-width="1.1" />
<line x1="374.68" y1="408.4" x2="374.68" y2="404.6" stroke="#4a4a4a" stroke-width="1.1" />
<line x1="407.61" y1="408.4" x2="407.61" y2="404.6" stroke="#4a4a4a" stroke-width="1.1" />
<line x1="440.53" y1="408.4" x2="440.53" y2="404.6" stroke="#4a4a4a" stroke-width="1.1" />
<line x1="473.45" y1="408.4" x2="473.45" y2="404.6" stroke="#4a4a4a" stroke-width="1.1" />
<line x1="506.38" y1="408.4" x2="506.38" y2="404.6" stroke="#4a4a4a" stroke-width="1.1" />
<line x1="539.3" y1="408.4" x2="539.3" y2="404.6" stroke="#4a4a4a" stroke-width="1.1" />
<line x1="358.22" y1="408.4" x2="358.22" y2="406.2" stroke="#4a4a4a" stroke-width="1.1" />
<line x1="391.15" y1="408.4" x2="391.15" y2="406.2" stroke="#4a4a4a" stroke-width="1.1" />
<line x1="424.07" y1="408.4" x2="424.07" y2="406.2" stroke="#4a4a4a" stroke-width="1.1" />
<line x1="456.99" y1="408.4" x2="456.99" y2="406.2" stroke="#4a4a4a" stroke-width="1.1" />
<line x1="489.92" y1="408.4" x2="489.92" y2="406.2" stroke="#4a4a4a" stroke-width="1.1" />
<line x1="522.84" y1="408.4" x2="522.84" y2="406.2" stroke="#4a4a4a" stroke-width="1.1" />
<text x="321.7" y="411.7" font-size="7.4" text-anchor="end" fill="#505050" font-weight="normal" textLength="19.7" lengthAdjust="spacingAndGlyphs" stroke="#505050" stroke-width="0.15" >0. 001</text>
<text x="321.7" y="390.82" font-size="7.4" text-anchor="end" fill="#505050" font-weight="normal" textLength="19.7" lengthAdjust="spacingAndGlyphs" stroke="#505050" stroke-width="0.15" >0. 002</text>
<text x="321.7" y="369.95" font-size="7.4" text-anchor="end" fill="#505050" font-weight="normal" textLength="19.7" lengthAdjust="spacingAndGlyphs" stroke="#505050" stroke-width="0.15" >0. 003</text>
<text x="321.7" y="349.07" font-size="7.4" text-anchor="end" fill="#505050" font-weight="normal" textLength="19.7" lengthAdjust="spacingAndGlyphs" stroke="#505050" stroke-width="0.15" >0. 004</text>
<text x="321.7" y="328.2" font-size="7.4" text-anchor="end" fill="#505050" font-weight="normal" textLength="19.7" lengthAdjust="spacingAndGlyphs" stroke="#505050" stroke-width="0.15" >0. 005</text>
<text x="321.7" y="307.32" font-size="7.4" text-anchor="end" fill="#505050" font-weight="normal" textLength="19.7" lengthAdjust="spacingAndGlyphs" stroke="#505050" stroke-width="0.15" >0. 006</text>
<text x="321.7" y="286.45" font-size="7.4" text-anchor="end" fill="#505050" font-weight="normal" textLength="19.7" lengthAdjust="spacingAndGlyphs" stroke="#505050" stroke-width="0.15" >0. 007</text>
<text x="321.7" y="265.57" font-size="7.4" text-anchor="end" fill="#505050" font-weight="normal" textLength="19.7" lengthAdjust="spacingAndGlyphs" stroke="#505050" stroke-width="0.15" >0. 008</text>
<text x="321.7" y="244.7" font-size="7.4" text-anchor="end" fill="#505050" font-weight="normal" textLength="19.7" lengthAdjust="spacingAndGlyphs" stroke="#505050" stroke-width="0.15" >0. 009</text>
<text x="341.76" y="419.1" font-size="8" text-anchor="middle" fill="#505050" font-weight="normal" textLength="12" lengthAdjust="spacingAndGlyphs" stroke="#505050" stroke-width="0.15" >0. 2</text>
<text x="374.68" y="419.1" font-size="8" text-anchor="middle" fill="#505050" font-weight="normal" textLength="12" lengthAdjust="spacingAndGlyphs" stroke="#505050" stroke-width="0.15" >0. 4</text>
<text x="407.61" y="419.1" font-size="8" text-anchor="middle" fill="#505050" font-weight="normal" textLength="12" lengthAdjust="spacingAndGlyphs" stroke="#505050" stroke-width="0.15" >0. 6</text>
<text x="440.53" y="419.1" font-size="8" text-anchor="middle" fill="#505050" font-weight="normal" textLength="12" lengthAdjust="spacingAndGlyphs" stroke="#505050" stroke-width="0.15" >0. 8</text>
<text x="473.45" y="419.1" font-size="8" text-anchor="middle" fill="#505050" font-weight="normal" textLength="12" lengthAdjust="spacingAndGlyphs" stroke="#505050" stroke-width="0.15" >1. 0</text>
<text x="506.38" y="419.1" font-size="8" text-anchor="middle" fill="#505050" font-weight="normal" textLength="12" lengthAdjust="spacingAndGlyphs" stroke="#505050" stroke-width="0.15" >1. 2</text>
<text x="539.3" y="419.1" font-size="8" text-anchor="middle" fill="#505050" font-weight="normal" textLength="12" lengthAdjust="spacingAndGlyphs" stroke="#505050" stroke-width="0.15" >1. 4</text>
<text x="439.8" y="429.8" font-size="11.9" text-anchor="middle" fill="#1a1a1a" font-weight="normal" textLength="112.5" lengthAdjust="spacingAndGlyphs" stroke="#1a1a1a" stroke-width="0.32" >Laser beam power (mW)</text>
<text transform="translate(295.9,324.6) rotate(-90)" x="0" y="0" font-size="11.3" text-anchor="middle" fill="#1a1a1a" textLength="127.4" lengthAdjust="spacingAndGlyphs" stroke="#1a1a1a" stroke-width="0.28">Amplitude/FWHM (V/MHz)</text>
<polyline points="341.76,400.59 358.22,399.63 374.68,399.01 391.15,397.96 407.61,396.92 424.07,398.80 440.53,396.92 456.99,392.95 473.45,389.61 489.92,390.24 506.38,387.73 522.84,387.73" fill="none" stroke="#bcbcbc" stroke-width="0.9"/>
<polyline points="341.76,384.00 358.22,363.39 374.68,362.60 391.15,361.01 407.61,353.71 424.07,349.32 440.53,339.93 456.99,314.46 473.45,305.28 489.92,304.02 506.38,297.55 522.84,283.57" fill="none" stroke="#f7b0b0" stroke-width="0.9"/>
<rect x="339.76" y="398.59" width="4" height="4" fill="#333333"/>
<rect x="356.22" y="397.63" width="4" height="4" fill="#333333"/>
<rect x="372.68" y="397.01" width="4" height="4" fill="#333333"/>
<rect x="389.15" y="395.96" width="4" height="4" fill="#333333"/>
<rect x="405.61" y="394.92" width="4" height="4" fill="#333333"/>
<rect x="422.07" y="396.80" width="4" height="4" fill="#333333"/>
<rect x="438.53" y="394.92" width="4" height="4" fill="#333333"/>
<rect x="454.99" y="390.95" width="4" height="4" fill="#333333"/>
<rect x="471.45" y="387.61" width="4" height="4" fill="#333333"/>
<rect x="487.92" y="388.24" width="4" height="4" fill="#333333"/>
<rect x="504.38" y="385.73" width="4" height="4" fill="#333333"/>
<rect x="520.84" y="385.73" width="4" height="4" fill="#333333"/>
<circle cx="341.76" cy="384.00" r="2.35" fill="#f02a2a"/>
<circle cx="358.22" cy="363.39" r="2.35" fill="#f02a2a"/>
<circle cx="374.68" cy="362.60" r="2.35" fill="#f02a2a"/>
<circle cx="391.15" cy="361.01" r="2.35" fill="#f02a2a"/>
<circle cx="407.61" cy="353.71" r="2.35" fill="#f02a2a"/>
<circle cx="424.07" cy="349.32" r="2.35" fill="#f02a2a"/>
<circle cx="440.53" cy="339.93" r="2.35" fill="#f02a2a"/>
<circle cx="456.99" cy="314.46" r="2.35" fill="#f02a2a"/>
<circle cx="473.45" cy="305.28" r="2.35" fill="#f02a2a"/>
<circle cx="489.92" cy="304.02" r="2.35" fill="#f02a2a"/>
<circle cx="506.38" cy="297.55" r="2.35" fill="#f02a2a"/>
<circle cx="522.84" cy="283.57" r="2.35" fill="#f02a2a"/>
<text x="332.4" y="263.6" font-size="10.9" text-anchor="start" fill="#1a1a1a" font-weight="normal" textLength="110" lengthAdjust="spacingAndGlyphs" stroke="#1a1a1a" stroke-width="0.28" >Laser beam spot Gaussian</text>
<text x="332.4" y="276" font-size="10.9" text-anchor="start" fill="#1a1a1a" font-weight="normal" textLength="131.7" lengthAdjust="spacingAndGlyphs" stroke="#1a1a1a" stroke-width="0.28" >diameter about two millimeters</text>
<rect x="446.4" y="241.4" width="91.10000000000002" height="23.6" fill="white" stroke="#777" stroke-width="0.9"/>
<line x1="447.9" y1="247.8" x2="467.9" y2="247.8" stroke="#bcbcbc" stroke-width="0.9" />
<rect x="456.00" y="246.00" width="3.6" height="3.6" fill="#333333"/>
<line x1="447.9" y1="259" x2="467.9" y2="259" stroke="#f7b0b0" stroke-width="0.9" />
<circle cx="457.80" cy="259.00" r="2.3" fill="#f02a2a"/>
<text x="475.4" y="251" font-size="9.4" text-anchor="start" fill="#383838" font-weight="normal" textLength="60" lengthAdjust="spacing" stroke="#383838" stroke-width="0.05" >(F=2) - (F’ =1)</text>
<text x="475.4" y="262.2" font-size="9.4" text-anchor="start" fill="#383838" font-weight="normal" textLength="60" lengthAdjust="spacing" stroke="#383838" stroke-width="0.05" >(F=2) - (F’ =2)</text>
<rect x="325.3" y="241.4" width="214" height="167" fill="none" stroke="#4a4a4a" stroke-width="1.1"/>
</svg>
</body></html>
